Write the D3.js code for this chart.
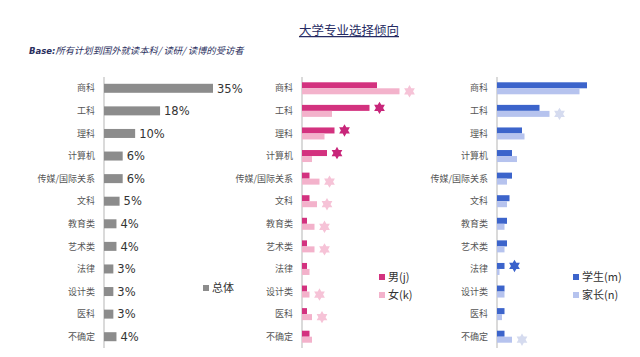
<!DOCTYPE html>
<html>
<head>
<meta charset="utf-8">
<script src="https://cdn.jsdelivr.net/npm/d3@7"></script>
<style>
  body { margin: 0; background: #fff; }
  svg { display: block; font-family: "Noto Sans CJK SC", "Noto Sans", sans-serif; }
  .cat { font-size: 9px; fill: #555; }
  .val { font-family: "DejaVu Sans", sans-serif; font-size: 11.5px; fill: #333; }
  .leg { font-size: 11px; fill: #333; }
  .axis-line { stroke: #b5b5b5; stroke-width: 1; }
</style>
</head>
<body>
<svg id="chart" width="640" height="357"></svg>
<script>
const categories = ["商科", "工科", "理科", "计算机", "传媒/国际关系", "文科",
                    "教育类", "艺术类", "法律", "设计类", "医科", "不确定"];
const total   = [35, 18, 10, 6, 6, 5, 4, 4, 3, 3, 3, 4];
const male    = [30, 27, 13, 10, 3, 3, 2, 2, 2, 2, 2, 3];
const female  = [39, 12, 9, 4, 7, 6, 5, 5, 3, 3, 4, 4];
const student = [36, 17, 10, 6, 6, 5, 4, 4, 3, 3, 3, 3];
const parent  = [33, 21, 11, 8, 4, 4, 3, 3, 1, 3, 2, 6];

// significance stars: [category, series index (0 = first, 1 = second)]
const genderStars = [["商科", 1], ["工科", 0], ["理科", 0], ["计算机", 0],
                     ["传媒/国际关系", 1], ["文科", 1], ["教育类", 1],
                     ["艺术类", 1], ["设计类", 1], ["医科", 1]];
const roleStars   = [["工科", 1], ["法律", 0], ["不确定", 1]];

const svg = d3.select("#chart");

svg.append("text")
   .attr("x", 349).attr("y", 35)
   .attr("text-anchor", "middle")
   .style("font-size", "12.5px")
   .style("fill", "#262b63")
   .style("text-decoration", "underline")
   .text("大学专业选择倾向");

const base = svg.append("text")
   .attr("x", 29).attr("y", 53.5)
   .style("font-size", "9.3px")
   .style("font-style", "italic")
   .style("fill", "#2a2f5e");
base.append("tspan").style("font-weight", "bold").style("font-family", "'DejaVu Sans', sans-serif")
    .style("font-size", "8.5px").text("Base:");
base.append("tspan").text("所有计划到国外就读本科/ 读研/ 读博的受访者");

const y = d3.scaleBand().domain(categories).range([77, 348]);

function hexagram(r) {
  const pts = d3.range(12).map(i => {
    const a = i * Math.PI / 6 - Math.PI / 2;
    const rr = i % 2 === 0 ? r : r / Math.sqrt(3);
    return [rr * Math.cos(a), rr * Math.sin(a)];
  });
  return "M" + pts.join("L") + "Z";
}

function axisAndLabels(ax) {
  svg.append("line").attr("class", "axis-line")
     .attr("x1", ax).attr("x2", ax).attr("y1", 77).attr("y2", 348);
  svg.append("g").selectAll("text")
     .data(categories).enter().append("text")
       .attr("class", "cat")
       .attr("x", ax - 9)
       .attr("y", d => y(d) + y.bandwidth() / 2)
       .attr("dy", "0.35em")
       .attr("text-anchor", "end")
       .text(d => d);
}

// ---- panel 1: total
const ax1 = 104;
const x1 = d3.scaleLinear().domain([0, 35]).range([ax1, 213]);
axisAndLabels(ax1);
svg.append("g").selectAll("rect")
   .data(total).enter().append("rect")
     .attr("x", ax1)
     .attr("y", (d, i) => y(categories[i]) + y.bandwidth() / 2 - 4.5)
     .attr("width", d => x1(d) - ax1)
     .attr("height", 9)
     .attr("fill", "#8c8c8c");
svg.append("g").selectAll("text")
   .data(total).enter().append("text")
     .attr("class", "val")
     .attr("x", d => x1(d) + 4)
     .attr("y", (d, i) => y(categories[i]) + y.bandwidth() / 2)
     .attr("dy", "0.37em")
     .text(d => d + "%");
svg.append("rect").attr("x", 203).attr("y", 285).attr("width", 6).attr("height", 6).attr("fill", "#8c8c8c");
svg.append("text").attr("class", "leg").attr("x", 212).attr("y", 288).attr("dy", "0.37em").text("总体");

// ---- panels 2 and 3: paired bars
function pairedPanel(ax, a, b, colors, starColors, stars, names, legX) {
  const x = d3.scaleLinear().domain([0, 40]).range([ax, ax + 100]);
  axisAndLabels(ax);
  [a, b].forEach((series, s) => {
    svg.append("g").selectAll("rect")
       .data(series).enter().append("rect")
         .attr("x", ax)
         .attr("y", (d, i) => y(categories[i]) + y.bandwidth() / 2 - 6 + s * 6)
         .attr("width", d => x(d) - ax)
         .attr("height", 6)
         .attr("fill", colors[s]);
  });
  svg.append("g").selectAll("path")
     .data(stars).enter().append("path")
       .attr("d", hexagram(6.2))
       .attr("fill", d => starColors[d[1]])
       .attr("transform", d => {
         const i = categories.indexOf(d[0]);
         const v = (d[1] === 0 ? a : b)[i];
         return `translate(${x(v) + 10},${y(d[0]) + y.bandwidth() / 2 - 3 + d[1] * 6})`;
       });
  names.forEach((n, s) => {
    svg.append("rect").attr("x", legX).attr("y", 274 + s * 18)
       .attr("width", 6).attr("height", 6).attr("fill", colors[s]);
    svg.append("text").attr("class", "leg").attr("x", legX + 9).attr("y", 277 + s * 18)
       .attr("dy", "0.37em").text(n);
  });
}

pairedPanel(302, male, female, ["#d3327f", "#f3b2cb"], ["#c8267a", "#f6c3d7"],
            genderStars, ["男(j)", "女(k)"], 379);
pairedPanel(497, student, parent, ["#3c64cb", "#b6c3ee"], ["#3a62cc", "#d5dbef"],
            roleStars, ["学生(m)", "家长(n)"], 573);
</script>
</body>
</html>
